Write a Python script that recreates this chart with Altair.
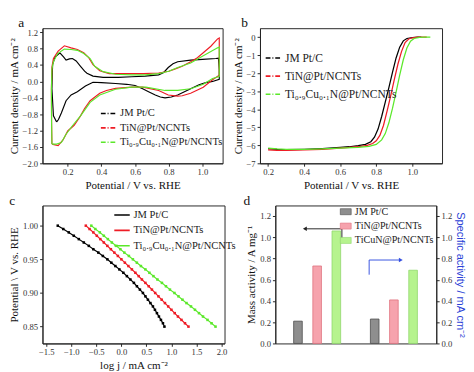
import altair as alt
import pandas as pd

SERIF = "Liberation Serif, Times New Roman, serif"
SANS = "Liberation Sans, Arial, sans-serif"

SERIES = ["JM Pt/C", "TiN@Pt/NCNTs", "Ti₀.₉Cu₀.₁N@Pt/NCNTs"]
LINE_COLORS = ["#000000", "#ee1c25", "#5be82a"]

# ---------------- panel a : cyclic voltammograms ----------------
cv_jm_E = [0.134, 0.115, 0.106, 0.110, 0.124, 0.153, 0.175, 0.190, 0.210, 0.228, 0.250, 0.276, 0.300,
           0.314, 0.350, 0.410, 0.500, 0.580, 0.660, 0.740, 0.770, 0.797, 0.825, 0.853, 0.930, 1.000,
           1.080, 1.095, 1.100, 1.100, 1.060, 1.020, 0.980, 0.930, 0.890, 0.853, 0.815, 0.778, 0.750,
           0.720, 0.680, 0.645, 0.600, 0.550, 0.484, 0.400, 0.350, 0.305, 0.257, 0.220, 0.190, 0.162,
           0.145, 0.134]
cv_jm_j = [-0.99, -0.84, -0.18, 0.41, 0.59, 0.70, 0.60, 0.52, 0.55, 0.56, 0.50, 0.37, 0.25,
           0.20, 0.13, 0.10, 0.10, 0.115, 0.13, 0.16, 0.22, 0.34, 0.43, 0.48, 0.52, 0.54,
           0.56, 0.57, 0.30, 0.05, 0.00, -0.03, -0.08, -0.18, -0.26, -0.33, -0.38, -0.40, -0.38,
           -0.33, -0.25, -0.18, -0.10, -0.07, -0.05, -0.03, -0.02, -0.11, -0.25, -0.33, -0.47, -0.77,
           -0.93, -0.99]

cv_tin_E = [0.106, 0.104, 0.103, 0.106, 0.115, 0.143, 0.180, 0.220, 0.257, 0.295, 0.323, 0.350, 0.390,
            0.446, 0.550, 0.650, 0.740, 0.800, 0.835, 0.880, 0.930, 0.970, 1.005, 1.050, 1.090, 1.100,
            1.100, 1.100, 1.060, 1.005, 0.930, 0.880, 0.853, 0.797, 0.740, 0.645, 0.580, 0.484, 0.430,
            0.390, 0.333, 0.300, 0.276, 0.238, 0.200, 0.172, 0.143, 0.125, 0.106]
cv_tin_j = [-1.53, -1.00, -0.20, 0.35, 0.56, 0.74, 0.87, 0.82, 0.78, 0.70, 0.59, 0.41, 0.26,
            0.19, 0.19, 0.19, 0.205, 0.25, 0.30, 0.37, 0.48, 0.58, 0.70, 0.86, 1.04, 1.06,
            0.60, 0.15, 0.04, -0.14, -0.29, -0.35, -0.36, -0.33, -0.22, -0.14, -0.14, -0.17, -0.22,
            -0.29, -0.47, -0.66, -0.84, -1.07, -1.21, -1.43, -1.57, -1.55, -1.53]

cv_cu_E = [0.106, 0.104, 0.103, 0.106, 0.115, 0.140, 0.180, 0.220, 0.257, 0.295, 0.333, 0.360, 0.410,
           0.484, 0.580, 0.660, 0.740, 0.800, 0.853, 0.930, 1.005, 1.090, 1.100, 1.100, 1.100, 1.060,
           1.005, 0.930, 0.853, 0.778, 0.664, 0.580, 0.484, 0.390, 0.333, 0.276, 0.230, 0.190, 0.162,
           0.134, 0.106]
cv_cu_j = [-1.53, -1.00, -0.20, 0.30, 0.48, 0.68, 0.79, 0.78, 0.76, 0.68, 0.56, 0.37, 0.24,
           0.175, 0.16, 0.16, 0.19, 0.25, 0.34, 0.45, 0.63, 0.82, 0.84, 0.40, 0.12, 0.07,
           -0.07, -0.18, -0.22, -0.22, -0.14, -0.14, -0.19, -0.33, -0.51, -0.84, -1.07, -1.29, -1.49,
           -1.53, -1.53]

# ---------------- panel b : ORR polarisation curves ----------------
lsv_jm_E = [0.20, 0.25, 0.30, 0.40, 0.50, 0.60, 0.65, 0.70, 0.74, 0.77, 0.79, 0.81, 0.83, 0.85,
            0.87, 0.89, 0.91, 0.93, 0.95, 0.97, 1.00, 1.03, 1.05]
lsv_jm_j = [-6.18, -6.22, -6.24, -6.22, -6.18, -6.12, -6.08, -6.02, -5.95, -5.80, -5.55, -5.10, -4.40, -3.60,
            -2.80, -1.95, -1.15, -0.55, -0.20, -0.07, -0.02, 0.00, 0.00]
lsv_tin_E = [0.20, 0.25, 0.30, 0.40, 0.50, 0.60, 0.70, 0.75, 0.78, 0.80, 0.82, 0.84, 0.86, 0.88,
             0.90, 0.92, 0.94, 0.96, 0.98, 1.00, 1.03, 1.08]
lsv_tin_j = [-6.25, -6.28, -6.28, -6.25, -6.22, -6.16, -6.08, -6.00, -5.90, -5.75, -5.45, -4.90, -4.10, -3.25,
             -2.35, -1.50, -0.80, -0.30, -0.10, -0.03, 0.00, 0.00]
lsv_cu_E = [0.20, 0.25, 0.30, 0.40, 0.50, 0.60, 0.70, 0.76, 0.80, 0.83, 0.85, 0.87, 0.89, 0.91,
            0.93, 0.95, 0.97, 0.99, 1.01, 1.04, 1.07, 1.10]
lsv_cu_j = [-6.15, -6.20, -6.22, -6.22, -6.20, -6.16, -6.12, -6.06, -5.95, -5.70, -5.35, -4.75, -3.95, -3.05,
            -2.10, -1.25, -0.60, -0.22, -0.07, -0.01, 0.00, 0.00]

# ---------------- panel c : Tafel plots ----------------
tafel_E = [1.000, 0.995, 0.990, 0.985, 0.980, 0.975, 0.970, 0.965, 0.960, 0.955, 0.950, 0.945, 0.940,
           0.935, 0.930, 0.925, 0.920, 0.915, 0.910, 0.905, 0.900, 0.895, 0.890, 0.885, 0.880, 0.875,
           0.870, 0.865, 0.860, 0.855, 0.850]
tafel_jm = [-1.27, -1.16, -1.05, -0.95, -0.85, -0.75, -0.65, -0.56, -0.46, -0.37, -0.28, -0.20, -0.12,
            -0.04, 0.04, 0.11, 0.18, 0.25, 0.31, 0.37, 0.43, 0.48, 0.53, 0.58, 0.63, 0.67,
            0.71, 0.75, 0.79, 0.83, 0.86]
tafel_tin = [-0.71, -0.635, -0.56, -0.49, -0.42, -0.35, -0.28, -0.21, -0.14, -0.07, 0.00, 0.07, 0.14,
             0.21, 0.28, 0.345, 0.41, 0.48, 0.545, 0.61, 0.675, 0.74, 0.805, 0.87, 0.935, 1.00,
             1.065, 1.13, 1.20, 1.27, 1.34]
tafel_cu = [-0.60, -0.52, -0.43, -0.35, -0.27, -0.19, -0.10, -0.02, 0.06, 0.15, 0.23, 0.31, 0.39,
            0.48, 0.56, 0.64, 0.72, 0.81, 0.89, 0.97, 1.06, 1.14, 1.22, 1.30, 1.39, 1.47,
            1.55, 1.63, 1.72, 1.80, 1.88]

# ---------------- panel d : activities ----------------
D_SERIES = ["JM Pt/C", "TiN@Pt/NCNTs", "TiCuN@Pt/NCNTs"]
D_FILLS = ["#8e8e8e", "#f6a3ad", "#b6f38e"]
D_STROKES = ["#4a4a4a", "#e0707e", "#8fd66a"]
bar_slot = [0, 1, 2, 4, 5, 6]
bar_series = D_SERIES + D_SERIES
bar_value = [0.21, 0.73, 1.06, 0.23, 0.41, 0.69]   # mass activity (A/mg) then specific activity (mA/cm2)

arrow_mass_x = [0.36, 2.29]
arrow_mass_y = [1.08, 0.965]
arrow_spec_x = [3.71, 5.36]
arrow_spec_y = [0.648, 0.786]


def loop_df(E_lists, j_lists, names):
    rows = []
    for E, j, n in zip(E_lists, j_lists, names):
        for i, (e, v) in enumerate(zip(E, j)):
            rows.append({"E": e, "j": v, "series": n, "order": i})
    return pd.DataFrame(rows)


df_a = loop_df([cv_jm_E, cv_tin_E, cv_cu_E], [cv_jm_j, cv_tin_j, cv_cu_j], SERIES)
df_b = loop_df([lsv_jm_E, lsv_tin_E, lsv_cu_E], [lsv_jm_j, lsv_tin_j, lsv_cu_j], SERIES)
df_c = pd.concat([
    pd.DataFrame({"E": tafel_E, "logj": vals, "series": n, "order": list(range(len(tafel_E)))})
    for vals, n in zip([tafel_jm, tafel_tin, tafel_cu], SERIES)
])
df_d = pd.DataFrame({"slot": bar_slot, "series": bar_series, "v": bar_value})


def leg(x, y, row_pad, size=11, dash=(5, 2, 1, 2)):
    return alt.Legend(title=None, orient="none", legendX=x, legendY=y, labelFont=SERIF, labelFontSize=size,
                      labelFontWeight="normal", labelColor="#222", symbolType="stroke", symbolStrokeWidth=1.6,
                      symbolSize=260, symbolDash=list(dash), rowPadding=row_pad, labelOffset=3, padding=0)


def panel_title(letter, dx):
    return alt.TitleParams(letter, anchor="start", frame="bounds", fontSize=14, font=SERIF,
                           fontWeight="normal", offset=-2, dx=dx, color="#111")


color_scale = alt.Scale(domain=SERIES, range=LINE_COLORS)

W_A, H_1 = 188, 141
chart_a = alt.Chart(df_a, title=panel_title("a", 10)).mark_line(strokeWidth=1.2).encode(
    x=alt.X("E:Q", scale=alt.Scale(domain=[0.05, 1.12], nice=False),
            axis=alt.Axis(values=[0.2, 0.4, 0.6, 0.8, 1.0], format=".1f", title="Potential / V vs. RHE")),
    y=alt.Y("j:Q", scale=alt.Scale(domain=[-2.0, 1.3], nice=False),
            axis=alt.Axis(values=[-2.0, -1.6, -1.2, -0.8, -0.4, 0.0, 0.4, 0.8, 1.2], format=".1f",
                          title="Current density / mA cm⁻²")),
    color=alt.Color("series:N", scale=color_scale, legend=leg(int(W_A * 0.32), int(H_1 * 0.57), 1)),
    order="order:Q",
).properties(width=W_A, height=H_1)

W_B = 190
chart_b = alt.Chart(df_b, title=panel_title("b", 9)).mark_line(strokeWidth=1.3).encode(
    x=alt.X("E:Q", scale=alt.Scale(domain=[0.155, 1.165], nice=False),
            axis=alt.Axis(values=[0.2, 0.4, 0.6, 0.8, 1.0], format=".1f", title="Potential / V vs. RHE")),
    y=alt.Y("j:Q", scale=alt.Scale(domain=[-7, 0.5], nice=False),
            axis=alt.Axis(values=[0, -1, -2, -3, -4, -5, -6, -7], format="d",
                          title="Current density / mA cm⁻²")),
    color=alt.Color("series:N", scale=color_scale, legend=leg(5, int(H_1 * 0.16), 4, size=12)),
    order="order:Q",
).properties(width=W_B, height=H_1)

W_C, H_2 = 190, 144
chart_c = alt.Chart(df_c, title=panel_title("c", 0)).mark_line(
    strokeWidth=1.2, point=alt.OverlayMarkDef(shape="square", size=7, filled=True)
).encode(
    x=alt.X("logj:Q", scale=alt.Scale(domain=[-1.575, 2.06], nice=False),
            axis=alt.Axis(values=[-1.5, -1.0, -0.5, 0.0, 0.5, 1.0, 1.5, 2.0], format=".1f",
                          title="log j / mA cm⁻²")),
    y=alt.Y("E:Q", scale=alt.Scale(domain=[0.825, 1.03], nice=False),
            axis=alt.Axis(values=[0.85, 0.90, 0.95, 1.00], format=".2f", title="Potential \\ V vs. RHE")),
    color=alt.Color("series:N", scale=color_scale,
                    legend=leg(int(W_C * 0.39), 1, 2, dash=(1, 0))),
    order="order:Q",
).properties(width=W_C, height=H_2)

W_D = 168
xscale_d = alt.Scale(domain=[-0.93, 6.96], nice=False)
yscale_d = alt.Scale(domain=[0, 1.3], nice=False)
ticks_d = [0.0, 0.2, 0.4, 0.6, 0.8, 1.0, 1.2]
left_axis = alt.Axis(values=ticks_d, format=".1f", title="Mass activity / A mg⁻¹")
right_axis = alt.Axis(values=ticks_d, format=".1f", orient="right", title="Specific activity / mA cm⁻²",
                      titleColor="#2a3fd6", titleFont=SANS)

bars = alt.Chart(df_d).mark_bar(size=9, strokeWidth=0.8).encode(
    x=alt.X("slot:Q", scale=xscale_d, axis=None),
    y=alt.Y("v:Q", scale=yscale_d, axis=left_axis),
    fill=alt.Fill("series:N", scale=alt.Scale(domain=D_SERIES, range=D_FILLS),
                  legend=alt.Legend(title=None, orient="none", legendX=int(W_D * 0.40), legendY=0,
                                    labelFont=SERIF, labelFontSize=10.5, labelFontWeight="normal",
                                    labelColor="#222", symbolType="M-1,-0.55H1V0.55H-1Z", symbolSize=130,
                                    symbolStrokeWidth=0.6, rowPadding=3, labelOffset=3, padding=0)),
    stroke=alt.Stroke("series:N", scale=alt.Scale(domain=D_SERIES, range=D_STROKES), legend=None),
)

mass_arrow_df = pd.DataFrame({"x1": [arrow_mass_x[0], arrow_mass_x[1]], "x2": [arrow_mass_x[1], arrow_mass_x[1]],
                              "y1": [arrow_mass_y[0], arrow_mass_y[0]], "y2": [arrow_mass_y[0], arrow_mass_y[1]]})
mass_rules = alt.Chart(mass_arrow_df).mark_rule(color="#222", strokeWidth=1).encode(
    x=alt.X("x1:Q", scale=xscale_d, axis=None), x2="x2:Q",
    y=alt.Y("y1:Q", scale=yscale_d, axis=left_axis), y2="y2:Q")
mass_head = alt.Chart(pd.DataFrame({"x1": [arrow_mass_x[0]], "y1": [arrow_mass_y[0]]})).mark_point(
    shape="triangle-left", filled=True, size=22, color="#222", opacity=1).encode(
    x=alt.X("x1:Q", scale=xscale_d, axis=None), y=alt.Y("y1:Q", scale=yscale_d, axis=left_axis))

spec_arrow_df = pd.DataFrame({"x1": [arrow_spec_x[0], arrow_spec_x[0]], "x2": [arrow_spec_x[0], arrow_spec_x[1]],
                              "y1": [arrow_spec_y[0], arrow_spec_y[1]], "y2": [arrow_spec_y[1], arrow_spec_y[1]]})
spec_rules = alt.Chart(spec_arrow_df).mark_rule(color="#3550e0", strokeWidth=1).encode(
    x=alt.X("x1:Q", scale=xscale_d, axis=None), x2="x2:Q",
    y=alt.Y("y1:Q", scale=yscale_d, axis=right_axis), y2="y2:Q")
spec_head = alt.Chart(pd.DataFrame({"x1": [arrow_spec_x[1]], "y1": [arrow_spec_y[1]]})).mark_point(
    shape="triangle-right", filled=True, size=22, color="#3550e0", opacity=1).encode(
    x=alt.X("x1:Q", scale=xscale_d, axis=None), y=alt.Y("y1:Q", scale=yscale_d, axis=right_axis))

left_layer = alt.layer(bars, mass_rules, mass_head)
right_layer = alt.layer(spec_rules, spec_head)
chart_d = alt.layer(left_layer, right_layer, title=panel_title("d", -3)).resolve_scale(
    y="independent").properties(width=W_D, height=H_2)

row1 = alt.hconcat(chart_a, chart_b, spacing=8).resolve_scale(color="independent").resolve_legend(color="independent")
row2 = alt.hconcat(chart_c, chart_d, spacing=6).resolve_scale(color="independent", fill="independent", stroke="independent").resolve_legend(color="independent")

chart = alt.vconcat(row1, row2, spacing=2).resolve_scale(
    color="independent", fill="independent", stroke="independent"
).resolve_legend(color="independent").properties(
    padding={"left": 0, "top": 0, "right": 0, "bottom": 0}
).configure_axis(
    labelFont=SERIF, labelFontSize=9, labelColor="#333", titleFont=SERIF, titleFontSize=11.5,
    titleFontWeight="normal", titleColor="#111", grid=False, domainColor="#222", tickColor="#222",
    tickSize=3, labelPadding=2, titlePadding=3,
).configure_view(stroke="#222", strokeWidth=1)

chart.save("out.html", embed_options={"renderer": "svg", "actions": False})
